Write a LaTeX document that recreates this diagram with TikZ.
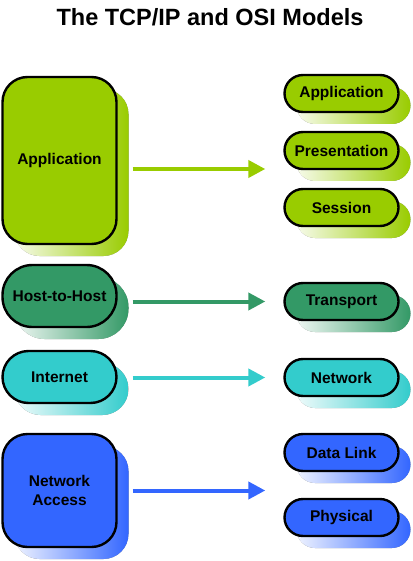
\documentclass[tikz,border=0pt]{standalone}
\usepackage{fontspec}
\setmainfont{Liberation Sans}
\usepackage{tikz}
\usetikzlibrary{arrows.meta}
\usetikzlibrary{shadows}
\usetikzlibrary{positioning}
\definecolor{appGreen}{HTML}{99CC00}
\definecolor{hostGreen}{HTML}{339966}
\definecolor{inetTeal}{HTML}{33CCCC}
\definecolor{accessBlue}{HTML}{3366FF}

\begin{document}
\begin{tikzpicture}[x=1pt,y=-1pt]
\tikzset{LayerBox/.style={
  draw=black,
  line width=2.4pt,
  fill=#1,
  inner sep=0pt,
  align=center,
  font=\fontsize{15.5}{18.5}\selectfont\bfseries,
  drop shadow={shadow xshift=12pt, shadow yshift=-12pt, opacity=1,
               left color=#1!8, middle color=#1!85, right color=#1},
}}
\tikzset{TcpLayer/.style={
  LayerBox=#1,
  minimum width=114pt,
}}
\tikzset{OsiLayer/.style={
  LayerBox=#1,
  minimum width=114pt,
  minimum height=37pt,
  rounded corners=18.5pt,
}}
\tikzset{LayerArrow/.style={
  draw=#1,
  line width=4pt,
  shorten <=15pt,
  shorten >=18pt,
  -{Triangle[length=17pt,width=17pt]},
}}

\useasboundingbox (0,0) rectangle (412,561);

\node[font=\fontsize{23.5}{28}\selectfont\bfseries, anchor=base] (title) at (210,26) {The TCP/IP and OSI Models};

% TCP/IP layers
\node[TcpLayer=appGreen, minimum height=167pt, rounded corners=25pt] (appT) at (59.5,160.5) {Application};
\node[TcpLayer=hostGreen, minimum height=62pt, rounded corners=30pt] (hostT) at (59.5,296) {Host-to-Host};
\node[TcpLayer=inetTeal, minimum height=52pt, rounded corners=26pt] (inetT) at (59.5,377) {Internet};
\node[TcpLayer=accessBlue, minimum height=113pt, rounded corners=25pt] (accT) at (59.5,490.5) {Network\\Access};

% OSI layers
\node[OsiLayer=appGreen] (appO) at (341.5,93.5) {Application};
\node[OsiLayer=appGreen] (pres) at (341.5,150.5) {Presentation};
\node[OsiLayer=appGreen] (sess) at (341.5,207.5) {Session};
\node[OsiLayer=hostGreen] (trans) at (341.5,301.5) {Transport};
\node[OsiLayer=inetTeal] (netw) at (341.5,377.5) {Network};
\node[OsiLayer=accessBlue] (dlink) at (341.5,452.5) {Data Link};
\node[OsiLayer=accessBlue] (phys) at (341.5,517.5) {Physical};

\draw[LayerArrow=appGreen] ([yshift=-8.5pt]appT.east) -- ([yshift=-8.5pt]appT.east -| pres.west);
\draw[LayerArrow=hostGreen] (hostT.east |- trans.west) -- (trans.west);
\draw[LayerArrow=inetTeal] (inetT.east |- netw.west) -- (netw.west);
\draw[LayerArrow=accessBlue] (accT.east) -- (accT.east -| dlink.west);
\end{tikzpicture}
\end{document}
